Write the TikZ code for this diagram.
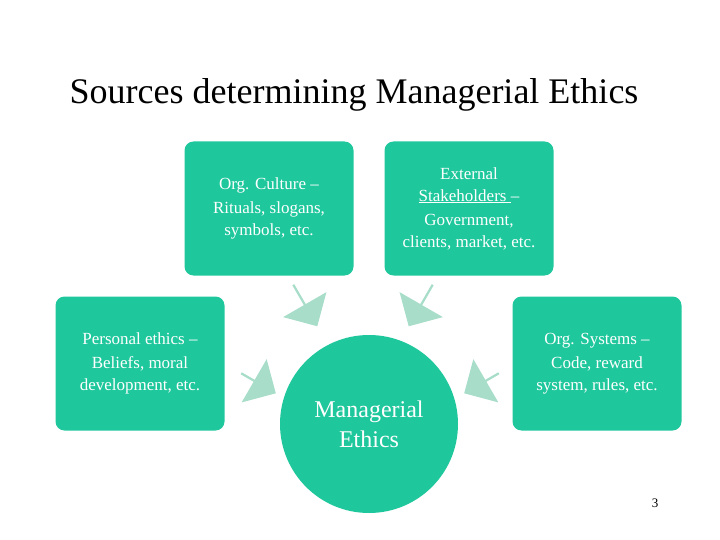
\documentclass[tikz,border=0pt]{standalone}
\usepackage{fontspec}
\setmainfont{Liberation Serif}
\usetikzlibrary{shapes.arrows}
\definecolor{teal1}{HTML}{1EC79C}
\definecolor{arr}{HTML}{A8DDC9}
\begin{document}
\begin{tikzpicture}[x=1pt,y=-1pt,
 box/.style={fill=teal1,rounded corners=9pt,minimum width=169pt,minimum height=134pt,text=white,align=center,font=\fontsize{17}{22}\selectfont,inner sep=2pt},
 barr/.style={single arrow,fill=arr,minimum height=48pt,minimum width=50pt,single arrow head extend=6pt,inner sep=0pt,shape border uses incircle}]
\useasboundingbox (0,0) rectangle (720,540);
\node (title) at (354,95) {\fontsize{36}{40}\selectfont Sources determining Managerial Ethics};
\node[box] (oc) at (269,208.5) {Org. Culture --\\[2pt]Rituals, slogans,\\symbols, etc.};
\node[box] (es) at (469,208.5) {External\\\underline{Stakeholders }--\\[2pt]Government,\\clients, market, etc.};
\node[box] (pe) at (140,363.5) {Personal ethics --\\[2pt]Beliefs, moral\\development, etc.};
\node[box] (os) at (597,363.5) {Org. Systems --\\[2pt]Code, reward\\system, rules, etc.};
\node[circle,fill=teal1,minimum size=178pt,text=white,align=center,font=\fontsize{24}{30}\selectfont,inner sep=0pt] (me) at (369,424) {Managerial\\Ethics};
\node[barr,rotate=-60] (a1) at (305,305) {};
\node[barr,rotate=-120] (a2) at (421,305) {};
\node[barr,rotate=-30,minimum height=40pt] (a3) at (258,383) {};
\node[barr,rotate=-150,minimum height=40pt] (a4) at (482,383) {};
\node (pg) at (655,503) {\fontsize{13}{15}\selectfont 3};
\end{tikzpicture}
\end{document}
